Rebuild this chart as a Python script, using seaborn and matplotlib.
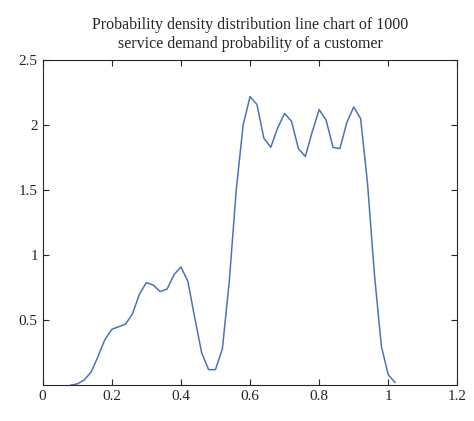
import numpy as np
import pandas as pd
import seaborn as sb
import matplotlib.pyplot as plt

sb.set_style('ticks')
plt.rcParams['font.family'] = ['Liberation Serif', 'DejaVu Serif']

# values
x = [0.08, 0.10, 0.12, 0.14, 0.16, 0.18, 0.20, 0.22, 0.24, 0.26, 0.28, 0.30,
     0.32, 0.34, 0.36, 0.38, 0.40, 0.42, 0.44, 0.46, 0.48, 0.50, 0.52, 0.54,
     0.56, 0.58, 0.60, 0.62, 0.64, 0.66, 0.68, 0.70, 0.72, 0.74, 0.76, 0.78,
     0.80, 0.82, 0.84, 0.86, 0.88, 0.90, 0.92, 0.94, 0.96, 0.98, 1.00, 1.02]
y = [0.0, 0.01, 0.04, 0.10, 0.22, 0.35, 0.43, 0.45, 0.47, 0.55, 0.70, 0.79,
     0.77, 0.72, 0.74, 0.85, 0.91, 0.80, 0.52, 0.25, 0.12, 0.12, 0.28, 0.80,
     1.50, 2.00, 2.22, 2.16, 1.90, 1.83, 1.98, 2.09, 2.03, 1.82, 1.76, 1.95,
     2.12, 2.04, 1.83, 1.82, 2.02, 2.14, 2.05, 1.55, 0.85, 0.30, 0.08, 0.02]
df = pd.DataFrame({'x': x, 'y': y})

fig, ax = plt.subplots(figsize=(4.74, 4.21), dpi=100)
sb.lineplot(data=df, x='x', y='y', ax=ax, color='#4a74b8', linewidth=1.1)
ax.set_xlim(0, 1.2)
ax.set_ylim(0, 2.5)
ax.set_xticks([0, 0.2, 0.4, 0.6, 0.8, 1, 1.2])
ax.set_xticklabels(['0', '0.2', '0.4', '0.6', '0.8', '1', '1.2'])
ax.set_yticks([0.5, 1, 1.5, 2, 2.5])
ax.set_yticklabels(['0.5', '1', '1.5', '2', '2.5'])
ax.tick_params(direction='in', labelsize=11, top=True, right=True, length=4)
ax.set_xlabel('')
ax.set_ylabel('')
for s in ax.spines.values():
    s.set_linewidth(0.8)
ax.set_title('Probability density distribution line chart of 1000\nservice demand probability of a customer',
             fontsize=11.5, pad=9)
plt.subplots_adjust(left=0.09, right=0.965, top=0.857, bottom=0.085)
plt.savefig('out.png')
